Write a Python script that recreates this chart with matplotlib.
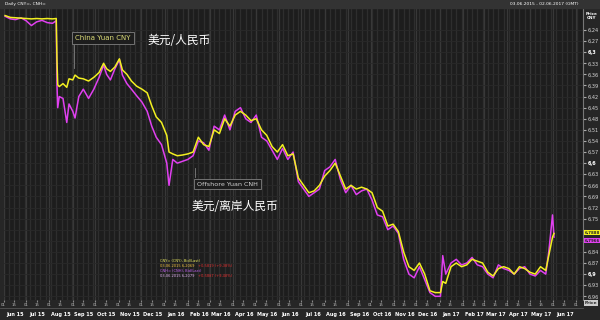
import matplotlib
matplotlib.use("Agg")
import matplotlib.pyplot as plt
import pandas as pd

plt.rcParams['font.family'] = ['DejaVu Sans', 'Noto Sans CJK SC']

# Daily CNY= / CNH= (weekly samples)
dates = [
    "2015-06-03", "2015-06-10", "2015-06-17", "2015-06-24", "2015-07-01", "2015-07-08",
    "2015-07-15", "2015-07-22", "2015-07-29", "2015-08-05", "2015-08-10", "2015-08-11",
    "2015-08-12", "2015-08-14", "2015-08-19", "2015-08-24", "2015-08-27", "2015-09-01",
    "2015-09-04", "2015-09-09", "2015-09-15", "2015-09-22", "2015-09-29", "2015-10-06",
    "2015-10-12", "2015-10-16", "2015-10-21", "2015-10-27", "2015-11-02", "2015-11-06",
    "2015-11-12", "2015-11-18", "2015-11-25", "2015-12-02", "2015-12-09", "2015-12-15",
    "2015-12-21", "2015-12-28", "2016-01-04", "2016-01-07", "2016-01-12", "2016-01-18",
    "2016-01-25", "2016-02-01", "2016-02-08", "2016-02-15", "2016-02-22", "2016-02-29",
    "2016-03-07", "2016-03-14", "2016-03-21", "2016-03-28", "2016-04-04", "2016-04-11",
    "2016-04-18", "2016-04-25", "2016-05-02", "2016-05-09", "2016-05-16", "2016-05-23",
    "2016-05-30", "2016-06-06", "2016-06-13", "2016-06-20", "2016-06-27", "2016-07-04",
    "2016-07-11", "2016-07-18", "2016-07-25", "2016-08-01", "2016-08-08", "2016-08-15",
    "2016-08-22", "2016-08-29", "2016-09-05", "2016-09-12", "2016-09-19", "2016-09-26",
    "2016-10-03", "2016-10-10", "2016-10-17", "2016-10-24", "2016-10-31", "2016-11-07",
    "2016-11-14", "2016-11-21", "2016-11-28", "2016-12-05", "2016-12-12", "2016-12-19",
    "2016-12-26", "2017-01-02", "2017-01-05", "2017-01-09", "2017-01-16", "2017-01-23",
    "2017-01-30", "2017-02-06", "2017-02-13", "2017-02-20", "2017-02-27", "2017-03-06",
    "2017-03-13", "2017-03-20", "2017-03-27", "2017-04-03", "2017-04-10", "2017-04-17",
    "2017-04-24", "2017-05-01", "2017-05-08", "2017-05-15", "2017-05-22", "2017-05-26",
    "2017-05-31", "2017-06-02",
]
cny = [
    6.201, 6.206, 6.207, 6.208, 6.209, 6.210, 6.209, 6.210, 6.209, 6.210, 6.209, 6.325,
    6.388, 6.393, 6.385, 6.395, 6.372, 6.375, 6.362, 6.370, 6.372, 6.378, 6.368, 6.355,
    6.330, 6.345, 6.352, 6.340, 6.318, 6.348, 6.360, 6.378, 6.392, 6.400, 6.410, 6.445,
    6.475, 6.490, 6.525, 6.570, 6.575, 6.580, 6.578, 6.575, 6.570, 6.530, 6.550, 6.555,
    6.510, 6.520, 6.480, 6.500, 6.470, 6.460, 6.470, 6.485, 6.480, 6.510, 6.525, 6.555,
    6.570, 6.550, 6.580, 6.575, 6.640, 6.660, 6.680, 6.675, 6.660, 6.635, 6.620, 6.600,
    6.635, 6.670, 6.660, 6.670, 6.665, 6.670, 6.680, 6.720, 6.730, 6.770, 6.765, 6.785,
    6.840, 6.880, 6.890, 6.870, 6.900, 6.945, 6.950, 6.950, 6.920, 6.925, 6.880, 6.870,
    6.880, 6.875, 6.860, 6.865, 6.870, 6.895, 6.905, 6.885, 6.880, 6.885, 6.900, 6.880,
    6.885, 6.895, 6.900, 6.880, 6.890, 6.850, 6.800, 6.790,
]
cnh = [
    6.203, 6.210, 6.212, 6.207, 6.215, 6.228, 6.218, 6.214, 6.220, 6.222, 6.215, 6.390,
    6.450, 6.420, 6.425, 6.490, 6.440, 6.460, 6.478, 6.420, 6.400, 6.425, 6.400, 6.368,
    6.335, 6.360, 6.375, 6.345, 6.320, 6.362, 6.385, 6.400, 6.418, 6.435, 6.460, 6.500,
    6.530, 6.550, 6.600, 6.660, 6.590, 6.600, 6.595, 6.590, 6.580, 6.540, 6.545, 6.565,
    6.500, 6.510, 6.470, 6.510, 6.460, 6.450, 6.480, 6.490, 6.470, 6.530, 6.540, 6.565,
    6.590, 6.560, 6.590, 6.570, 6.650, 6.670, 6.690, 6.680, 6.670, 6.620, 6.610, 6.590,
    6.645, 6.680, 6.660, 6.685, 6.675, 6.670, 6.700, 6.740, 6.745, 6.780, 6.770, 6.790,
    6.860, 6.900, 6.910, 6.880, 6.915, 6.950, 6.960, 6.960, 6.850, 6.900, 6.870, 6.860,
    6.875, 6.870, 6.855, 6.875, 6.880, 6.900, 6.910, 6.875, 6.885, 6.890, 6.900, 6.885,
    6.880, 6.900, 6.905, 6.890, 6.900, 6.840, 6.740, 6.800,
]
last_cny = "6,7888"
last_cnh = "6,7966"

months = pd.date_range("2015-06-01", "2017-07-01", freq="MS")
yticks = [6.24 + 0.03 * i for i in range(25)]

df = pd.DataFrame({"date": pd.to_datetime(dates), "cny": cny, "cnh": cnh})

BG = "#1d1d1d"
fig = plt.figure(figsize=(6, 3.2), dpi=100)
fig.patch.set_facecolor("#262626")
ax = fig.add_axes([0.006, 0.0625, 0.965, 0.912])
ax.set_facecolor(BG)

# vertical grid (weekly) and horizontal grid
weeks = pd.date_range("2015-06-01", "2017-07-10", freq="W-MON")
for w in weeks:
    ax.axvline(w, color="#2e2e2e", lw=0.9, zorder=0)
for m in months:
    ax.axvline(m, color="#383838", lw=0.9, zorder=0)
for v in yticks:
    ax.axhline(v, color="#292929", lw=0.6, zorder=0)

ax.plot(df["date"], df["cnh"], color="#e040f0", lw=1.1, zorder=3)
ax.plot(df["date"], df["cny"], color="#f2f020", lw=1.1, zorder=4)

ax.set_xlim(pd.Timestamp("2015-06-01"), pd.Timestamp("2017-07-10"))
ax.set_ylim(6.970, 6.181)

# right price axis (labels under the last-value tags are hidden)
ax.yaxis.tick_right()
ax.set_yticks(yticks)
labels = []
for v in yticks:
    s = f"{v:.2f}".rstrip("0").replace(".", ",")
    if s in ("6,78", "6,81"):
        s = ""
    labels.append(s)
ax.set_yticklabels(labels, fontsize=3.6, color="#d8d8d8")
for t, v in zip(ax.get_yticklabels(), yticks):
    if abs(v * 10 - round(v * 10)) < 1e-6:
        t.set_fontweight("bold")
        t.set_color("white")
ax.tick_params(axis="y", length=2, color="#aaaaaa", pad=1.5, direction="out")

# x axis: day ticks and month labels
days = []
for m in months[:-1]:
    days.append(m)
    days.append(m + pd.Timedelta(days=14))
days.append(months[-1])
ax.set_xticks(days)
ax.set_xticklabels([d.strftime("%d") for d in days], fontsize=2.8, color="#bbbbbb")
mids = [m + pd.Timedelta(days=15) for m in months[:-1]]
ax.set_xticks(mids, minor=True)
ax.set_xticklabels([m.strftime("%b %y") for m in months[:-1]], minor=True,
                   fontsize=3.6, color="white", fontweight="bold")
ax.tick_params(axis="x", which="major", length=1.5, color="#888888", pad=1)
ax.tick_params(axis="x", which="minor", length=0, pad=8.5)

for s in ax.spines.values():
    s.set_visible(False)
ax.spines["right"].set_visible(True)
ax.spines["right"].set_color("#777777")

# header strip
fig.patches.append(plt.Rectangle((0, 0.975), 1, 0.025, transform=fig.transFigure,
                                 color="#333333", zorder=0))
fig.text(0.008, 0.987, "Daily CNY=, CNH=", fontsize=3.2, color="white",
         va="center", ha="left")
fig.text(0.965, 0.987, "03.06.2015 - 02.06.2017 (GMT)", fontsize=3.2,
         color="white", va="center", ha="right")
fig.text(0.986, 0.962, "Price\nCNY", fontsize=3.0, color="white",
         va="top", ha="center", fontweight="bold", linespacing=1.0)
fig.text(0.985, 0.052, "Price", fontsize=3.2, color="#222222", va="center",
         ha="center", fontweight="bold",
         bbox=dict(boxstyle="square,pad=0.2", fc="#cccccc", ec="none"))
fig.add_artist(plt.Line2D([0, 0.971], [0.038, 0.038], color="#555555", lw=0.6))

# last value tags
ax.annotate(last_cny, xy=(1.0, df["cny"].iloc[-1] - 0.002), xycoords=("axes fraction", "data"),
            xytext=(1.2, 0), textcoords="offset points", fontsize=2.8, color="#222222",
            va="center", ha="left", fontweight="bold", annotation_clip=False,
            bbox=dict(boxstyle="square,pad=0.15", fc="#f2f020", ec="none"))
ax.annotate(last_cnh, xy=(1.0, df["cnh"].iloc[-1] + 0.010), xycoords=("axes fraction", "data"),
            xytext=(1.2, 0), textcoords="offset points", fontsize=2.8, color="#222222",
            va="center", ha="left", fontweight="bold", annotation_clip=False,
            bbox=dict(boxstyle="square,pad=0.15", fc="#e040f0", ec="none"))

# annotations
fig.text(75 / 600, 1 - 38 / 320, "China Yuan CNY", fontsize=5, color="#dede78",
         va="center", ha="left",
         bbox=dict(boxstyle="square,pad=0.45", fc=BG, ec="#808080", lw=0.6))
fig.add_artist(plt.Line2D([74 / 600, 74 / 600], [1 - 45 / 320, 1 - 68 / 320],
                          color="#808080", lw=0.6))
fig.text(148 / 600, 1 - 40 / 320, "美元/人民币", fontsize=8.5, color="white",
         va="center", ha="left", family=["Noto Sans CJK SC", "DejaVu Sans"])

fig.text(197 / 600, 1 - 184 / 320, "Offshore Yuan CNH", fontsize=4.6, color="#d0d0d0",
         va="center", ha="left",
         bbox=dict(boxstyle="square,pad=0.45", fc=BG, ec="#808080", lw=0.6))
fig.add_artist(plt.Line2D([195 / 600, 195 / 600], [1 - 177 / 320, 1 - 168 / 320],
                          color="#808080", lw=0.6))
fig.text(192 / 600, 1 - 206 / 320, "美元/离岸人民币", fontsize=8.5, color="white",
         va="center", ha="left", family=["Noto Sans CJK SC", "DejaVu Sans"])

# small legend block
leg = [
    ("CNY= (CNY), Bid(Last)", "#e8e860", "", 261),
    ("03.06.2015 6,2069", "#f0c040", "+0,5819 (+9,38%)", 266),
    ("CNH= (CNH), Bid(Last)", "#c060f0", "", 271),
    ("03.06.2015 6,2079", "#e0b0f0", "+0,5887 (+9,48%)", 276),
]
for txt, col, red, py in leg:
    fig.text(160 / 600, 1 - py / 320, txt, fontsize=2.6, color=col, va="center", ha="left")
    if red:
        fig.text(198 / 600, 1 - py / 320, red, fontsize=2.6, color="#e03030",
                 va="center", ha="left")

fig.savefig("out.png", dpi=100, facecolor=fig.get_facecolor())
